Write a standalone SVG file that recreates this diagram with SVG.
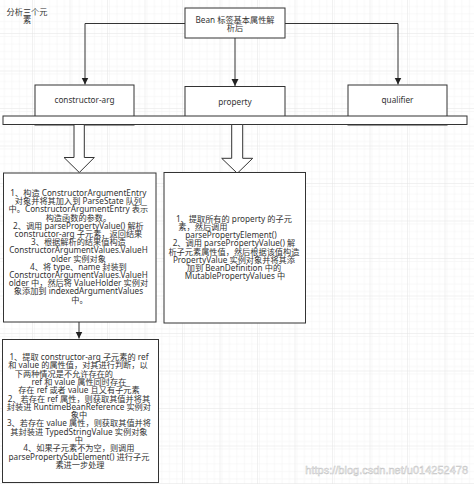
<svg xmlns="http://www.w3.org/2000/svg" width="474" height="484" viewBox="0 0 474 484">
<style>
.box{fill:#ffffff;stroke:#333333;stroke-width:1}
.ln{fill:none;stroke:#333333;stroke-width:1}
.t{font-family:"Noto Sans","Noto Sans CJK SC",sans-serif;font-size:8.2px;fill:#333333;text-anchor:middle}
.wm{font-family:"Liberation Sans",Arial,sans-serif;font-size:11px;fill:#ffffff;stroke:#c4c4c4;stroke-width:0.5;text-anchor:end}
</style>
<defs>
<pattern id="minor" x="32" y="33" width="7.5" height="7.5" patternUnits="userSpaceOnUse">
<path d="M0 0H7.5M0 0V7.5" fill="none" stroke="#f1f1f1" stroke-width="1"/>
</pattern>
<pattern id="major" x="32" y="33" width="37.5" height="37.5" patternUnits="userSpaceOnUse">
<rect width="37.5" height="37.5" fill="url(#minor)"/>
<path d="M0 0H37.5M0 0V37.5" fill="none" stroke="#e4e4e4" stroke-width="1"/>
</pattern>
<marker id="arr" markerWidth="8" markerHeight="8" refX="7" refY="3.5" orient="auto" markerUnits="userSpaceOnUse">
<path d="M0 0L7 3.5L0 7z" fill="#222222"/>
</marker>
</defs>
<rect width="474" height="484" fill="#ffffff"/>
<rect width="474" height="484" fill="url(#major)"/>

<g id="title">
<text class="t" x="27" y="15">分析三个元</text>
<text class="t" x="27" y="22.5">素</text>
</g>

<g id="connectors">
<path class="ln" d="M185 23.5H85V84.5" marker-end="url(#arr)"/>
<path class="ln" d="M235 38V86" marker-end="url(#arr)"/>
<path class="ln" d="M285 23.5H398V84.5" marker-end="url(#arr)"/>
<path class="ln" d="M79 322V338.5" marker-end="url(#arr)"/>
</g>

<g id="bean">
<rect class="box" x="185" y="8" width="100" height="30"/>
<text class="t" x="235" y="23">Bean 标签基本属性解</text>
<text class="t" x="235" y="31">析后</text>
</g>

<g id="constructor-arg">
<rect class="box" x="35" y="85" width="99" height="40"/>
<text class="t" x="84.5" y="103">constructor-arg</text>
</g>

<g id="property">
<rect class="box" x="185" y="86.5" width="100" height="38"/>
<text class="t" x="235" y="105">property</text>
</g>

<g id="qualifier">
<rect class="box" x="348" y="85" width="99" height="40"/>
<text class="t" x="397.5" y="103">qualifier</text>
</g>

<g id="bar">
<rect class="box" x="3" y="116" width="464" height="8.5"/>
</g>

<g id="block-arrow-left">
<path class="box" d="M74 124.5V157.5H64L79.3 172.5L94.3 157.5H84.3V124.5Z"/>
</g>

<g id="block-arrow-right">
<path class="box" d="M231.7 124.5V158.3H221.7L237.3 173.3L252.7 158.3H242.7V124.5Z"/>
</g>

<g id="constructor-box">
<rect class="box" x="3.5" y="173" width="152.5" height="149"/>
<text class="t" x="79.5" y="196">
<tspan x="79.5">1、构造 ConstructorArgumentEntry</tspan>
<tspan x="79.5" dy="8.2">对象并将其加入到 ParseState 队列</tspan>
<tspan x="79.5" dy="8.2">中。ConstructorArgumentEntry 表示</tspan>
<tspan x="79.5" dy="8.2">构造函数的参数。</tspan>
<tspan x="79.5" dy="8.2">2、调用 parsePropertyValue() 解析</tspan>
<tspan x="79.5" dy="8.2">constructor-arg 子元素，返回结果</tspan>
<tspan x="79.5" dy="8.2">3、根据解析的结果值构造</tspan>
<tspan x="79.5" dy="8.2">ConstructorArgumentValues.ValueH</tspan>
<tspan x="79.5" dy="8.2">older 实例对象</tspan>
<tspan x="79.5" dy="8.2">4、将 type、name 封装到</tspan>
<tspan x="79.5" dy="8.2">ConstructorArgumentValues.ValueH</tspan>
<tspan x="79.5" dy="8.2">older 中，然后将 ValueHolder 实例对</tspan>
<tspan x="79.5" dy="8.2">象添加到 indexedArgumentValues</tspan>
<tspan x="79.5" dy="8.2">中。</tspan>
</text>
</g>

<g id="property-box">
<rect class="box" x="164" y="172.5" width="141.5" height="150.5"/>
<text class="t" x="235" y="222">
<tspan x="235">1、提取所有的 property 的子元</tspan>
<tspan x="204" dy="8.15">素，然后调用</tspan>
<tspan x="232" dy="8.15">parsePropertyElement()</tspan>
<tspan x="235" dy="8.15">2、调用 parsePropertyValue() 解</tspan>
<tspan x="235" dy="8.15">析子元素属性值，然后根据该值构造</tspan>
<tspan x="235" dy="8.15">PropertyValue 实例对象并将其添</tspan>
<tspan x="235" dy="8.15">加到 BeanDefinition 中的</tspan>
<tspan x="235" dy="8.15">MutablePropertyValues 中</tspan>
</text>
</g>

<g id="sub-element-box">
<rect class="box" x="2.5" y="339.5" width="156" height="143"/>
<text class="t" x="80" y="360">
<tspan x="80">1、提取 constructor-arg 子元素的 ref</tspan>
<tspan x="79" dy="8.3">和 value 的属性值，对其进行判断，以</tspan>
<tspan x="65" dy="8.3">下两种情况是不允许存在的</tspan>
<tspan x="80" dy="8.3">ref 和 value 属性同时存在</tspan>
<tspan x="80" dy="8.3">存在 ref 或者 value 且又有子元素</tspan>
<tspan x="80" dy="8.3">2、若存在 ref 属性，则获取其值并将其</tspan>
<tspan x="80" dy="8.3">封装进 RuntimeBeanReference 实例对</tspan>
<tspan x="80" dy="8.3">象中</tspan>
<tspan x="80" dy="8.3">3、若存在 value 属性，则获取其值并将</tspan>
<tspan x="80" dy="8.3">其封装进 TypedStringValue 实例对象</tspan>
<tspan x="80" dy="8.3">中</tspan>
<tspan x="80" dy="8.3">4、如果子元素不为空，则调用</tspan>
<tspan x="80" dy="8.3">parsePropertySubElement() 进行子元</tspan>
<tspan x="80" dy="8.3">素进一步处理</tspan>
</text>
</g>

<text class="wm" x="468" y="474">https://blog.csdn.net/u014252478</text>
</svg>
